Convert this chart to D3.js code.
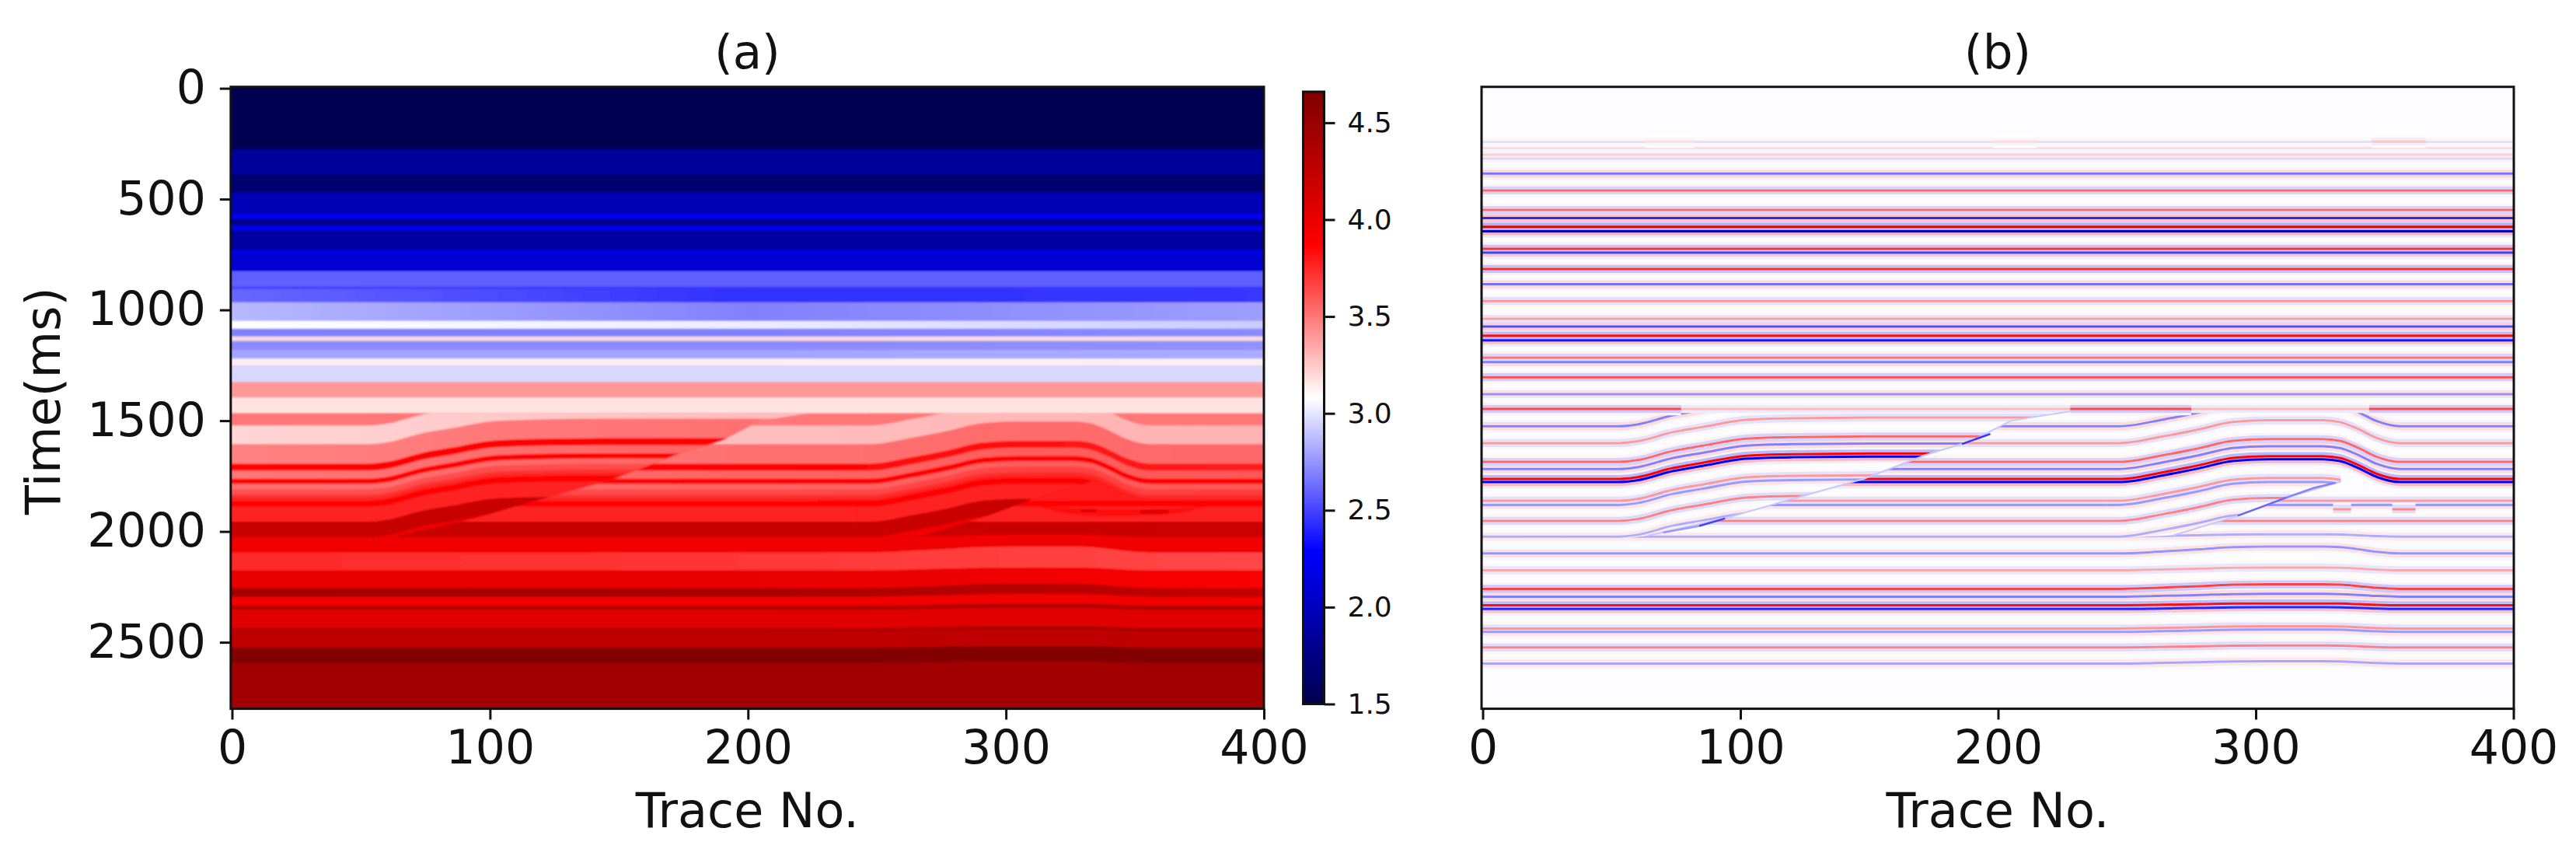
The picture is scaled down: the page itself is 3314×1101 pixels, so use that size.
<!DOCTYPE html>
<html>
<head>
<meta charset="utf-8">
<script src="https://cdn.jsdelivr.net/npm/d3@7"></script>
<style>
  body { margin: 0; background: #fff; }
  text { font-family: "DejaVu Sans", sans-serif; fill: #111; }
</style>
</head>
<body>
<svg id="chart" width="3314" height="1101"></svg>
<script>
/*################
Panel (a): velocity layers
################*/
const layerTop = [-20, 274, 388, 470, 565, 590, 620, 640, 730, 745, 825, 895, 905, 965, 1050, 1085, 1120, 1140, 1180, 1220, 1250, 1325, 1395, 1465, 1522, 1606, 1694, 1725, 1762, 1785, 1810, 1835, 1850, 1862, 1888, 1956, 2025, 2094, 2175, 2256, 2294, 2335, 2352, 2437, 2450, 2525, 2594];
const velLeft = [1.52, 1.84, 1.66, 1.97, 2.23, 1.77, 2.23, 1.87, 2.23, 2.09, 2.59, 2.48, 2.61, 2.86, 3.08, 2.69, 3.19, 2.72, 2.80, 3.13, 2.96, 3.40, 3.17, 3.50, 3.21, 3.47, 3.87, 3.50, 3.87, 3.52, 3.62, 3.72, 3.77, 3.87, 3.77, 4.22, 3.96, 3.74, 4.01, 4.45, 3.96, 4.36, 4.06, 4.36, 4.27, 4.64, 4.45];
const velMid = [1.52, 1.84, 1.66, 1.97, 2.23, 1.77, 2.23, 1.87, 2.23, 2.09, 2.59, 2.46, 2.44, 2.69, 3.02, 2.69, 3.19, 2.72, 2.80, 3.13, 2.96, 3.40, 3.17, 3.50, 3.28, 3.52, 3.87, 3.56, 3.87, 3.56, 3.64, 3.72, 3.77, 3.87, 3.77, 4.22, 3.96, 3.70, 4.01, 4.40, 3.96, 4.36, 4.06, 4.36, 4.27, 4.64, 4.45];
const velRight = [1.52, 1.84, 1.66, 1.97, 2.23, 1.77, 2.23, 1.87, 2.23, 2.09, 2.59, 2.46, 2.46, 2.78, 2.92, 2.72, 3.19, 2.74, 2.82, 3.13, 2.96, 3.40, 3.17, 3.50, 3.32, 3.55, 3.78, 3.60, 3.87, 3.60, 3.68, 3.74, 3.78, 3.87, 3.77, 4.20, 3.96, 3.65, 3.90, 4.25, 3.96, 4.40, 4.06, 4.45, 4.27, 4.64, 4.45];
const layerWarp = [0, 0, 0, 0, 0, 0, 0, 0, 0, 0, 0, 0, 0, 0, 0, 0, 0, 0, 0, 0, 0, 0, 0, 1, 1, 1, 1, 1, 1, 1, 1, 1, 1, 0, 0, 0, 0.1, 0.25, 0.12, 0.2, 0.12, 0.08, 0.08, 0.1, 0.1, 0.08, 0.08];

// layers that belong to the displaced fault blocks
const leftBlockTops = [1465, 1522, 1606, 1694, 1725, 1762, 1785, 1810, 1835, 1850, 1862, 1888, 1956, 2025];
const rightBlockTops = [1862, 1888, 1956, 2025];

/*################
Structure: fold shifts (ms) and fault traces
################*/
const leftFoldTraces = [-1, 53, 60, 74, 85, 102, 120, 150, 245];
const leftFoldShift = [0, 0, 8, 50, 72, 105, 112, 115, 115];
const rightFoldTraces = [-1, 247, 264, 278, 291, 305, 326, 333, 340, 347, 356, 401];
const rightFoldShift = [0, 0, 30, 62, 95, 103, 103, 94, 62, 23, 0, 0];

const faultOneTraces = [228, 205, 190, 172, 148, 118, 94, 64, 50];
const faultOneTimes = [1458, 1500, 1590, 1654, 1762, 1860, 1941, 2019, 2038];
const faultTwoTraces = [333, 312, 293, 268, 242];
const faultTwoTimes = [1775, 1847, 1929, 2017, 2032];

// lens at the right of the fold in panel (a): trace, top, bottom
const lensTraces = [313, 325, 340, 360, 377];
const lensTop = [1888, 1895, 1900, 1898, 1890];
const lensBottom = [1888, 1920, 1930, 1925, 1890];
const spotFrom = [329, 352];
const spotTo = [335, 363];
const spotTime = [1905, 1912];

/*################
Panel (b): reflectors at the layer boundaries
################*/
const reflTime = [242, 270, 300, 317, 385, 461, 549, 586, 625, 645, 724, 742, 815, 884, 960, 1040, 1075, 1116, 1137, 1215, 1236, 1304, 1380, 1447, 1525, 1601, 1686, 1718, 1763, 1777, 1861, 1880, 1952, 2023, 2099, 2175, 2259, 2294, 2333, 2350, 2438, 2453, 2523, 2596];
const reflAmp = [-0.12, 0.14, 0.2, -0.15, -0.55, 0.6, 0.6, -0.85, 1.12, -1.15, 0.8, -0.75, 0.85, -0.55, 0.42, 0.38, -0.7, 0.95, -0.9, 0.55, -0.5, 0.7, -0.42, 0.28, -0.5, 0.4, 0.6, -0.5, 1.0, -1.0, 0.4, -0.4, 0.5, -0.32, -0.42, 0.35, 0.75, -0.5, 0.95, -0.85, 0.42, -0.4, 0.5, -0.35];
const reflWarp = [0, 0, 0, 0, 0, 0, 0, 0, 0, 0, 0, 0, 0, 0, 0, 0, 0, 0, 0, 0, 0, 0, 0, 0, 1, 1, 1, 1, 1, 1, 0, 0, 0, 0.1, 0.3, 0.12, 0.2, 0.12, 0.08, 0.08, 0.1, 0.1, 0.08, 0.1];

// times that are displaced inside the fault blocks
const leftReflTimes = [1525, 1601, 1686, 1718, 1763, 1777, 1861, 1880, 1952, 2023];
const rightReflTimes = [1861, 1880, 1952, 2023];

// short stretches: stronger parts of the 1447 ms reflector, bumps at the top, lens spots
const patchFrom = [-1, 228, 344, 63, 198, 345, 330, 353];
const patchTo = [77, 275, 401, 82, 215, 366, 337, 362];
const patchTime = [1447, 1447, 1447, 240, 240, 240, 1900, 1900];
const patchAmp = [0.72, 0.72, 0.72, 0.12, 0.14, 0.24, 0.42, 0.48];

// the brightest pieces along the fault traces: from trace, to trace, from time, to time
const faultSpotFrom = [197, 94, 84, 293, 312, 322];
const faultSpotTo = [186, 84, 70, 312, 322, 331];
const faultSpotStart = [1560, 1941, 1975, 1929, 1847, 1805];
const faultSpotEnd = [1605, 1975, 2005, 1847, 1805, 1780];
const faultSpotAmp = [-0.8, -0.75, -0.4, -0.6, -0.5, -0.5];

/*################
Axes
################*/
const traceTicks = [0, 100, 200, 300, 400];
const timeTicks = [0, 500, 1000, 1500, 2000, 2500];
const velTicks = [1.5, 2.0, 2.5, 3.0, 3.5, 4.0, 4.5];

const svg = d3.select('#chart');
const defs = svg.append('defs');

const timeY = d3.scaleLinear().domain([0, 2800]).range([113.6, 911.6]);
const traceA = d3.scaleLinear().domain([0, 400]).range([298.5, 1626]);
const traceB = d3.scaleLinear().domain([0, 400]).range([1907.5, 3233.5]);
const velScale = d3.scaleLinear().domain([1.5, 4.66]).range([905.5, 118]);

// matplotlib "seismic"
const seismic = d3.scaleLinear()
    .domain([0, 0.25, 0.5, 0.75, 1])
    .range(['#00004d', '#0000ff', '#ffffff', '#ff0000', '#800000']);
const velColor = v => seismic((v - 1.5) / 3.16);
const ampColor = d3.scaleLinear()
    .domain([-1.4, -1, 0, 1, 1.4])
    .range(['#00004d', '#0000ff', '#ffffff', '#ff0000', '#800000'])
    .clamp(true);

defs.append('filter').attr('id', 'soft')
    .append('feGaussianBlur').attr('stdDeviation', 0.8);
defs.append('filter').attr('id', 'softB')
    .append('feGaussianBlur').attr('stdDeviation', 0.55);

const boxA = { x: traceA(-0.5), y: 111.7, w: traceA(400) - traceA(-0.5), h: timeY(2800) - 111.7 };
const boxB = { x: 1906, y: 111.7, w: 3234 - 1906, h: timeY(2800) - 111.7 };

function clipRect(id, box) {
    defs.append('clipPath').attr('id', id).append('rect')
        .attr('x', box.x).attr('y', box.y).attr('width', box.w).attr('height', box.h);
}
clipRect('plotA', boxA);
clipRect('plotB', boxB);

const bentPoints = (ms, w, traces, shift) => traces.map((t, i) => [t, ms - w * shift[i]]);

// polygons for the two displaced blocks, as [trace, time]
const leftBlockPoly = [[-1, 1465], [228, 1465]]
    .concat(faultOneTraces.map((t, i) => [t, faultOneTimes[i]]))
    .concat([[-1, 2040]]);
const rightBlockPoly = [[242, 1640], [333, 1640]]
    .concat(faultTwoTraces.map((t, i) => [t, faultTwoTimes[i]]));
const belowUnconformity = [[-1, 1465], [401, 1465], [401, 2800], [-1, 2800]];

function blockClips(suffix, x) {
    const poly = pts => pts.map(d => [x(d[0]), timeY(d[1])].join(',')).join(' ');
    defs.append('clipPath').attr('id', 'leftBlock' + suffix).append('polygon').attr('points', poly(leftBlockPoly));
    defs.append('clipPath').attr('id', 'rightBlock' + suffix).append('polygon').attr('points', poly(rightBlockPoly));
    defs.append('clipPath').attr('id', 'below' + suffix).append('polygon').attr('points', poly(belowUnconformity));
}
blockClips('A', traceA);
blockClips('B', traceB);

/*################
Panel (a)
################*/
layerTop.forEach((top, i) => {
    const grad = defs.append('linearGradient')
        .attr('id', 'layer' + i)
        .attr('gradientUnits', 'userSpaceOnUse')
        .attr('x1', traceA(0)).attr('x2', traceA(400))
        .attr('y1', 0).attr('y2', 0);
    grad.append('stop').attr('offset', '0').attr('stop-color', velColor(velLeft[i]));
    grad.append('stop').attr('offset', '0.5').attr('stop-color', velColor(velMid[i]));
    grad.append('stop').attr('offset', '1').attr('stop-color', velColor(velRight[i]));
});

const layerArea = d3.area()
    .x(d => traceA(d[0]))
    .y0(d => timeY(d[1]))
    .y1(timeY(2900))
    .curve(d3.curveMonotoneX);

const panelA = svg.append('g').attr('clip-path', 'url(#plotA)')
    .append('g').attr('filter', 'url(#soft)');

panelA.append('g').selectAll('path')
    .data(layerTop.map((t, i) => i).filter(i => layerTop[i] < 1465))
    .join('path')
    .attr('d', i => layerArea(bentPoints(layerTop[i], 0, rightFoldTraces, rightFoldShift)))
    .attr('fill', i => `url(#layer${i})`);

// everything below the unconformity is cut off flat at 1465 ms
const foldedA = panelA.append('g').attr('clip-path', 'url(#belowA)');
foldedA.append('g').selectAll('path')
    .data(layerTop.map((t, i) => i).filter(i => layerTop[i] >= 1465))
    .join('path')
    .attr('d', i => layerArea(bentPoints(layerTop[i], layerWarp[i], rightFoldTraces, rightFoldShift)))
    .attr('fill', i => `url(#layer${i})`);

foldedA.append('g').attr('clip-path', 'url(#rightBlockA)').selectAll('path')
    .data(rightBlockTops)
    .join('path')
    .attr('d', top => layerArea(bentPoints(top, 1, rightFoldTraces, rightFoldShift)))
    .attr('fill', top => `url(#layer${layerTop.indexOf(top)})`);

foldedA.append('g').attr('clip-path', 'url(#leftBlockA)').selectAll('path')
    .data(leftBlockTops)
    .join('path')
    .attr('d', top => layerArea(bentPoints(top, 1, leftFoldTraces, leftFoldShift)))
    .attr('fill', top => `url(#layer${layerTop.indexOf(top)})`);

const lensArea = d3.area()
    .x(d => traceA(d))
    .y0((d, i) => timeY(lensTop[i]))
    .y1((d, i) => timeY(lensBottom[i]))
    .curve(d3.curveMonotoneX);
panelA.append('path').attr('d', lensArea(lensTraces))
    .attr('fill', velColor(3.87)).attr('opacity', 0.6);
panelA.append('g').selectAll('line')
    .data(spotFrom)
    .join('line')
    .attr('x1', d => traceA(d))
    .attr('x2', (d, i) => traceA(spotTo[i]))
    .attr('y1', (d, i) => timeY(spotTime[i]))
    .attr('y2', (d, i) => timeY(spotTime[i]))
    .attr('stroke', velColor(4.1))
    .attr('stroke-width', 4);

/*################
Panel (b)
################*/
const BG_B = '#fdfdff';
const reflLine = d3.line()
    .x(d => traceB(d[0]))
    .y(d => timeY(d[1]))
    .curve(d3.curveMonotoneX);

const panelB = svg.append('g').attr('clip-path', 'url(#plotB)')
    .append('g').attr('filter', 'url(#softB)');
panelB.append('rect')
    .attr('x', boxB.x - 10).attr('y', boxB.y - 10)
    .attr('width', boxB.w + 20).attr('height', boxB.h + 20)
    .attr('fill', BG_B);

// one wavelet: faint far lobes, side lobes of opposite sign, sharp centre
function drawWavelets(parent, items, lineOf) {
    const far = [-24, 24], near = [-12, 12];
    far.forEach(off => parent.append('g').selectAll('path').data(items).join('path')
        .attr('d', d => lineOf(d, off)).attr('fill', 'none')
        .attr('stroke', d => ampColor(d.amp * 0.07)).attr('stroke-width', 3));
    near.forEach(off => parent.append('g').selectAll('path').data(items).join('path')
        .attr('d', d => lineOf(d, off)).attr('fill', 'none')
        .attr('stroke', d => ampColor(-d.amp * 0.28)).attr('stroke-width', 3.4));
    parent.append('g').selectAll('path').data(items).join('path')
        .attr('d', d => lineOf(d, 0)).attr('fill', 'none')
        .attr('stroke', d => ampColor(d.amp)).attr('stroke-width', 3);
}

const reflItems = reflTime.map((t, i) => ({ t, amp: reflAmp[i], w: reflWarp[i] }));
const rightLine = (d, off) => reflLine(bentPoints(d.t + off, d.w, rightFoldTraces, rightFoldShift));

// flat and gently warped reflectors first
drawWavelets(panelB.append('g'), reflItems.filter(d => d.w < 1), rightLine);

// block right of the second fold
const rightB = panelB.append('g').attr('clip-path', 'url(#rightBlockB)');
rightB.append('polygon')
    .attr('points', rightBlockPoly.map(d => [traceB(d[0]), timeY(d[1])].join(',')).join(' '))
    .attr('fill', BG_B);
drawWavelets(rightB.append('g'),
    reflItems.filter(d => rightReflTimes.includes(d.t)).map(d => ({ t: d.t, amp: d.amp, w: 1 })),
    rightLine);

// fold reflectors run over the whole width and stop at the unconformity
drawWavelets(panelB.append('g').attr('clip-path', 'url(#belowB)'), reflItems.filter(d => d.w === 1), rightLine);

// block left of the first fault
const leftB = panelB.append('g').attr('clip-path', 'url(#leftBlockB)');
leftB.append('polygon')
    .attr('points', leftBlockPoly.map(d => [traceB(d[0]), timeY(d[1])].join(',')).join(' '))
    .attr('fill', BG_B);
drawWavelets(leftB.append('g'),
    reflItems.filter(d => leftReflTimes.includes(d.t)),
    (d, off) => reflLine(bentPoints(d.t + off, 1, leftFoldTraces, leftFoldShift)));

// short stretches use the same wavelet
const patchItems = patchFrom.map((from, i) => ({ from, to: patchTo[i], t: patchTime[i], amp: patchAmp[i] }));
drawWavelets(panelB.append('g'), patchItems,
    (d, off) => reflLine([[d.from, d.t + off], [d.to, d.t + off]]));

// fault traces show as thin blue diffractions
const faultLine = d3.line().x(d => traceB(d[0])).y(d => timeY(d[1]));
[[faultOneTraces.slice(0, 8), faultOneTimes.slice(0, 8)], [faultTwoTraces.slice(0, 4), faultTwoTimes.slice(0, 4)]].forEach(f => {
    panelB.append('path')
        .attr('d', faultLine(f[0].map((t, i) => [t, f[1][i]])))
        .attr('fill', 'none')
        .attr('stroke', ampColor(-0.22))
        .attr('stroke-width', 2);
});
panelB.append('g').selectAll('line').data(faultSpotFrom).join('line')
    .attr('x1', d => traceB(d))
    .attr('x2', (d, i) => traceB(faultSpotTo[i]))
    .attr('y1', (d, i) => timeY(faultSpotStart[i]))
    .attr('y2', (d, i) => timeY(faultSpotEnd[i]))
    .attr('stroke', (d, i) => ampColor(faultSpotAmp[i]))
    .attr('stroke-width', 2.4);

/*################
Colorbar
################*/
const cbGrad = defs.append('linearGradient').attr('id', 'cbGrad')
    .attr('x1', 0).attr('x2', 0).attr('y1', 1).attr('y2', 0);
seismic.domain().forEach(s => {
    cbGrad.append('stop').attr('offset', s).attr('stop-color', seismic(s));
});
svg.append('rect')
    .attr('x', 1676.5).attr('y', velScale(4.66))
    .attr('width', 27).attr('height', velScale(1.5) - velScale(4.66))
    .attr('fill', 'url(#cbGrad)')
    .attr('stroke', '#111').attr('stroke-width', 3);

/*################
Axes and text
################*/
function styleAxis(g, size) {
    g.select('.domain').remove();
    g.selectAll('.tick line').attr('stroke', '#111').attr('stroke-width', 3);
    g.selectAll('.tick text').attr('font-size', size).attr('font-family', '"DejaVu Sans"').attr('fill', '#111');
}

svg.append('g').attr('transform', `translate(0,${boxA.y + boxA.h})`)
    .call(d3.axisBottom(traceA).tickValues(traceTicks).tickSize(14).tickPadding(14))
    .call(styleAxis, 60);
svg.append('g').attr('transform', `translate(0,${boxB.y + boxB.h})`)
    .call(d3.axisBottom(traceB).tickValues(traceTicks).tickSize(14).tickPadding(14))
    .call(styleAxis, 60);
svg.append('g').attr('transform', `translate(${boxA.x},0)`)
    .call(d3.axisLeft(timeY).tickValues(timeTicks).tickFormat(d3.format('d')).tickSize(14).tickPadding(18))
    .call(styleAxis, 60);
svg.append('g').attr('transform', 'translate(1703.5,0)')
    .call(d3.axisRight(velScale).tickValues(velTicks).tickFormat(d3.format('.1f')).tickSize(14).tickPadding(16))
    .call(styleAxis, 36);

[boxA, boxB].forEach(b => {
    svg.append('rect')
        .attr('x', b.x).attr('y', b.y).attr('width', b.w).attr('height', b.h)
        .attr('fill', 'none').attr('stroke', '#111').attr('stroke-width', 3);
});

const midA = boxA.x + boxA.w / 2, midB = boxB.x + boxB.w / 2;
[['(a)', midA], ['(b)', midB]].forEach(d => {
    svg.append('text').attr('x', d[1]).attr('y', 88)
        .attr('text-anchor', 'middle').attr('font-size', 61).text(d[0]);
});
[midA, midB].forEach(x => {
    svg.append('text').attr('x', x).attr('y', 1064)
        .attr('text-anchor', 'middle').attr('font-size', 62).text('Trace No.');
});
svg.append('text')
    .attr('transform', `translate(77,${(boxA.y + boxA.y + boxA.h) / 2 + 4}) rotate(-90)`)
    .attr('text-anchor', 'middle').attr('font-size', 62).text('Time(ms)');
</script>
</body>
</html>
